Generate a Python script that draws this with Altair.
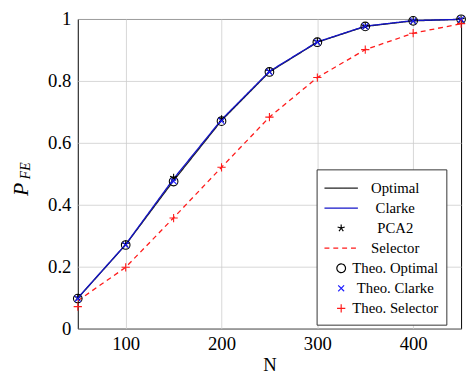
import altair as alt
import pandas as pd

N = [50, 100, 150, 200, 250, 300, 350, 400, 450]
optimal = [0.098, 0.271, 0.478, 0.672, 0.829, 0.925, 0.976, 0.994, 0.999]
clarke = [0.099, 0.272, 0.484, 0.675, 0.831, 0.926, 0.977, 0.995, 0.999]
pca2 = [0.100, 0.273, 0.488, 0.677, 0.832, 0.927, 0.977, 0.995, 0.999]
selector = [0.090, 0.198, 0.358, 0.521, 0.683, 0.811, 0.901, 0.954, 0.985]
theo_optimal = [0.097, 0.270, 0.475, 0.670, 0.829, 0.925, 0.976, 0.994, 0.999]
theo_clarke = [0.097, 0.270, 0.476, 0.671, 0.829, 0.925, 0.976, 0.994, 0.999]
theo_selector = [0.071, 0.198, 0.357, 0.521, 0.683, 0.811, 0.901, 0.954, 0.985]

series = ["Optimal", "Clarke", "PCA2", "Selector",
          "Theo. Optimal", "Theo. Clarke", "Theo. Selector"]
colors = ["#222222", "#1414c8", "black", "#ff1a1a", "black", "#1a1aff", "#ff1a1a"]
LINE = "M-1.7,0H1.7"
CIRCLE = "M0.44,0A0.44,0.44 0 1,1 -0.44,0A0.44,0.44 0 1,1 0.44,0Z"
XMARK = "M-0.3,-0.3L0.3,0.3M-0.3,0.3L0.3,-0.3"
PLUS = "M-0.42,0H0.42M0,-0.42V0.42"
STAR = ("M0,0L0,-0.38M0,0L0.361,-0.117M0,0L0.223,0.307"
        "M0,0L-0.223,0.307M0,0L-0.361,-0.117")
shapes = [LINE, LINE, STAR, LINE, CIRCLE, XMARK, PLUS]
dashes = [[1, 0], [1, 0], [1, 0], [5, 4], [1, 0], [1, 0], [1, 0]]

line_df = pd.concat([
    pd.DataFrame({"N": N, "v": optimal, "series": "Optimal"}),
    pd.DataFrame({"N": N, "v": clarke, "series": "Clarke"}),
    pd.DataFrame({"N": N, "v": selector, "series": "Selector"}),
])
point_df = pd.concat([
    pd.DataFrame({"N": N, "v": pca2, "series": "PCA2"}),
    pd.DataFrame({"N": N, "v": theo_optimal, "series": "Theo. Optimal"}),
    pd.DataFrame({"N": N, "v": theo_clarke, "series": "Theo. Clarke"}),
    pd.DataFrame({"N": N, "v": theo_selector, "series": "Theo. Selector"}),
])

FONT = "Liberation Serif"

leg = alt.Legend(
    title=None, orient="none", legendX=243, legendY=153,
    fillColor="white", strokeColor="#333333", padding=8, cornerRadius=0,
    labelFont=FONT, labelFontSize=15, labelColor="black",
    labelAlign="center", labelOffset=44, labelLimit=200,
    symbolSize=400, symbolStrokeWidth=1.2, symbolOffset=6,
    rowPadding=1.4, symbolFillColor="transparent",
)

color = alt.Color("series:N", scale=alt.Scale(domain=series, range=colors), legend=leg)

x = alt.X("N:Q", scale=alt.Scale(domain=[50, 450], nice=False),
          axis=alt.Axis(values=[100, 200, 300, 400], title="N", titlePadding=3,
                        labelPadding=6, tickSize=0))
y = alt.Y("v:Q", scale=alt.Scale(domain=[0, 1], nice=False),
          axis=alt.Axis(values=[0, 0.2, 0.4, 0.6, 0.8, 1], title=None,
                        labelPadding=7, tickSize=0,
                        labelExpr="datum.value == 0 ? '0' : datum.value == 1 ? '1' : format(datum.value, '.1f')"))

lines = alt.Chart(line_df).mark_line(strokeWidth=1.3).encode(
    x=x, y=y, color=color,
    strokeDash=alt.StrokeDash("series:N", scale=alt.Scale(domain=series, range=dashes), legend=leg),
    order=alt.Order("series:N"),
)

points = alt.Chart(point_df).mark_point(filled=False, size=400, strokeWidth=1.1, opacity=1).encode(
    x=x, y=y, color=color,
    shape=alt.Shape("series:N", scale=alt.Scale(domain=series, range=shapes), legend=leg),
)

ylab_p = alt.Chart(pd.DataFrame({"t": ["P"]})).mark_text(
    font=FONT, fontSize=22, fontStyle="italic", angle=270, align="left",
    baseline="alphabetic", color="black").encode(
    text="t:N", x=alt.value(-51), y=alt.value(180))
ylab_s = alt.Chart(pd.DataFrame({"t": ["FE"]})).mark_text(
    font=FONT, fontSize=14, fontStyle="italic", angle=270, align="left",
    baseline="alphabetic", color="black").encode(
    text="t:N", x=alt.value(-49), y=alt.value(163))

chart = alt.layer(lines, points, ylab_p, ylab_s).properties(
    width=390, height=315,
    autosize=alt.AutoSizeParams(type="none"),
    padding={"left": 71, "top": 8, "right": 5, "bottom": 43},
).configure_view(
    stroke="black", strokeWidth=1
).configure_axis(
    labelFont=FONT, labelFontSize=19, labelColor="black",
    titleFont=FONT, titleFontSize=19, titleFontWeight="normal", titleColor="black",
    domain=False, gridColor="#cccccc", gridWidth=0.8, grid=True,
)

chart.save("out.html", embed_options={"renderer": "svg", "actions": False})
